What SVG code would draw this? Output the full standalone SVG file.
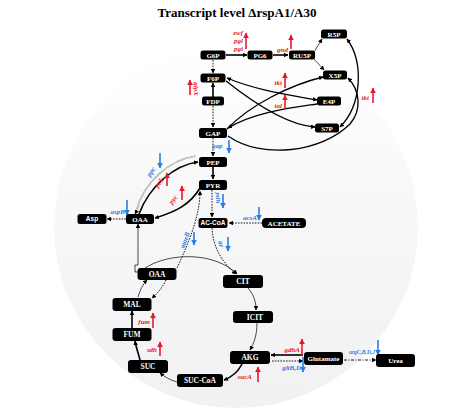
<svg xmlns="http://www.w3.org/2000/svg" width="474" height="417" viewBox="0 0 474 417">
<defs>
<linearGradient id="bg" x1="0" y1="0" x2="0" y2="1">
<stop offset="0" stop-color="#ffffff"/>
<stop offset="0.4" stop-color="#f8f8f9"/>
<stop offset="1" stop-color="#f1f1f3"/>
</linearGradient>
<marker id="ah" viewBox="0 0 10 10" refX="9" refY="5" markerWidth="4.5" markerHeight="4.5" orient="auto-start-reverse" markerUnits="userSpaceOnUse"><path d="M0,0 L10,5 L0,10 z" fill="#000"/></marker>
<marker id="rh" viewBox="0 0 10 10" refX="9" refY="5" markerWidth="6" markerHeight="6" orient="auto" markerUnits="userSpaceOnUse"><path d="M0,0 L10,5 L0,10 z" fill="#e8192c"/></marker>
<marker id="bh" viewBox="0 0 10 10" refX="9" refY="5" markerWidth="6" markerHeight="6" orient="auto" markerUnits="userSpaceOnUse"><path d="M0,0 L10,5 L0,10 z" fill="#2a7de1"/></marker>
</defs>
<style>
.n rect{fill:#000}
.n text{fill:#fff;font-family:"Liberation Serif",serif;font-weight:bold;font-size:7px;text-anchor:middle}
.n text.s{font-family:"Liberation Sans",sans-serif;font-size:6.5px}
.e path{fill:none;stroke:#000;marker-end:url(#ah)}
.th{stroke-width:1.6}
.tn{stroke-width:0.7}
.ds{stroke-width:0.9;stroke-dasharray:1.6 1.2}
.up{stroke:#e8192c;stroke-width:1.6;marker-end:url(#rh)}
.dn{stroke:#2a7de1;stroke-width:1.6;marker-end:url(#bh)}
.r{fill:#e8192c;font-family:"Liberation Serif",serif;font-style:italic;font-weight:bold;font-size:7px}
.b{fill:#2a7de1;font-family:"Liberation Serif",serif;font-style:italic;font-weight:bold;font-size:7px}
</style>
<rect width="474" height="417" fill="#fff"/>
<circle cx="236" cy="226" r="182" fill="url(#bg)"/>
<text x="237" y="17" text-anchor="middle" font-family="Liberation Serif,serif" font-weight="bold" font-size="13">Transcript level  ΔrspA1/A30</text>

<g class="e" id="connectors">
<path class="th" d="M226,55 L247,55"/>
<path class="th" d="M273,55 L288,55"/>
<path class="tn" d="M314,52 L322,39"/>
<path class="tn" d="M314,59 L324,70"/>
<path class="ds" d="M213,60 L213,73"/>
<path class="th" d="M213,97 L213,83"/>
<path class="ds" d="M213,106 L213,127"/>
<path class="th" style="marker-start:url(#ah);stroke-width:1.3" d="M227,78 C255,90 290,95 317,100"/>
<path class="th" style="stroke-width:1.3" d="M226,81 C250,100 285,125 315,127"/>
<path class="th" style="stroke-width:1.3" d="M227,129 C250,105 290,85 323,77"/>
<path class="th" style="stroke-width:1.3" d="M317,104 C290,108 255,112 228,128"/>
<path class="th" style="stroke-width:1.3" d="M228,136 C262,160 322,152 350,124 C362,110 360,90 348,78"/>
<path class="th" style="marker-start:url(#ah);stroke-width:1.3" d="M340,127 C362,105 364,62 347,39"/>
<path class="ds" d="M213,138 L213,156"/>
<path class="th" d="M213,167 L213,179"/>
<path class="ds" d="M212,190 L212,217"/>
<path class="ds" d="M262,223 L229,223"/>
<path class="ds" d="M212,228 C213,250 225,265 236,274"/>
<path class="th" d="M139,214 C150,185 175,165 198,162"/>
<path style="stroke:#999;stroke-width:1.4;marker-end:none" d="M196,156 C170,160 145,180 136,211"/>
<path style="stroke:#f8f8f9;stroke-width:0.6;marker-end:none" d="M196,156 C170,160 145,180 136,211"/>
<path style="stroke:#888;stroke-width:0.4" d="M140,205 L135,214"/>
<path class="th" d="M200,188 C190,205 175,212 155,218"/>
<path class="ds" d="M126,219 L107,219"/>
<path class="tn" d="M139,272 L135,272 L135,265 L138,265 L138,224"/>
<path class="ds" d="M177,268 C190,240 200,215 200,191"/>
<path class="tn" d="M145,268 C170,252 215,252 237,274"/>
<path class="tn" d="M248,288 C254,295 256,302 256,310"/>
<path class="tn" d="M257,323 C257,335 254,343 250,350"/>
<path class="th" d="M242,364 C238,372 232,377 224,380"/>
<path class="tn" d="M177,382 C170,380 165,377 160,373"/>
<path class="th" d="M140,360 C138,352 136,347 135,341"/>
<path class="th" d="M132,328 L132,311"/>
<path class="tn" d="M138,297 C140,290 143,284 147,280"/>
<path class="ds" d="M166,280 C162,288 158,293 152,298"/>
<path class="th" d="M303,355 L271,355"/>
<path class="ds" d="M272,361 L303,361"/>
<path style="stroke-width:0.9;stroke-dasharray:3 1.5 1 1.5" d="M344,360 L376,360"/>
</g>

<g id="expression">
<path class="up" d="M246,49 L246,33"/>
<path class="up" d="M291,49 L291,35"/>
<path class="up" d="M285,88 L285,73"/>
<path class="up" d="M285,109 L285,95"/>
<path class="up" d="M190,95 L190,80"/>
<path class="up" d="M373,103 L373,88"/>
<path class="up" d="M167,186 L167,173"/>
<path class="up" d="M182,200 L182,186"/>
<path class="up" d="M153,328 L153,313"/>
<path class="up" d="M160,356 L160,342"/>
<path class="up" d="M258,382 L258,367"/>
<path class="up" d="M302,355 L302,339"/>
<path class="dn" d="M229,140 L229,153"/>
<path class="dn" d="M223,194 L223,208"/>
<path class="dn" d="M259,207 L259,220"/>
<path class="dn" d="M160,153 L160,168"/>
<path class="dn" d="M127,200 L127,215"/>
<path class="dn" d="M194,232 L194,245"/>
<path class="dn" d="M228,237 L228,251"/>
<path class="dn" d="M303,357 L303,372"/>
<path class="dn" d="M378,340 L378,355"/>
<text class="r" x="243" y="35" text-anchor="end">zwf</text>
<text class="r" x="243" y="43" text-anchor="end">pgl</text>
<text class="r" x="243" y="51" text-anchor="end">pgi</text>
<text class="r" x="288" y="52" text-anchor="end">gnd</text>
<text class="r" x="282" y="85" text-anchor="end">tkt</text>
<text class="r" x="282" y="108" text-anchor="end">tal</text>
<text class="r" x="369" y="100" text-anchor="end">tkt</text>
<text class="r" transform="translate(194,89) rotate(90)" text-anchor="middle">glpX</text>
<text class="r" transform="translate(161,184) rotate(-55)" text-anchor="middle">pck</text>
<text class="r" transform="translate(175,201) rotate(-50)" text-anchor="middle">pyc</text>
<text class="r" x="150" y="324" text-anchor="end">fum</text>
<text class="r" x="157" y="352" text-anchor="end">sdh</text>
<text class="r" x="252" y="379" text-anchor="end">sucA</text>
<text class="r" x="300" y="352" text-anchor="end">gdhA</text>
<text class="b" x="212" y="148">gap</text>
<text class="b" transform="translate(216,198) rotate(90)" text-anchor="middle">pdh</text>
<text class="b" x="257" y="220" text-anchor="end">acsA</text>
<text class="b" transform="translate(153,173) rotate(-55)" text-anchor="middle">ppc</text>
<text class="b" x="125" y="214" text-anchor="end">aspB</text>
<text class="b" transform="translate(187,241) rotate(-70)" text-anchor="middle">maeB</text>
<text class="b" transform="translate(219,244) rotate(90)" text-anchor="middle">gl</text>
<text class="b" x="301" y="370" text-anchor="end">gltB,D</text>
<text class="b" x="375" y="354" text-anchor="end" style="font-size:5.5px">argC,B,D,J</text>
</g>

<g class="n" id="G6P"><rect x="200.5" y="50.5" width="25" height="9" rx="2.5"/><text x="213" y="57.5">G6P</text></g>
<g class="n" id="PG6"><rect x="247.5" y="50.5" width="25" height="9" rx="2.5"/><text x="260" y="57.5">PG6</text></g>
<g class="n" id="RU5P"><rect x="289" y="50.5" width="26" height="9" rx="2.5"/><text x="302" y="57.5">RU5P</text></g>
<g class="n" id="R5P"><rect x="321" y="29.5" width="26" height="9" rx="2.5"/><text x="334" y="36.5">R5P</text></g>
<g class="n" id="F6P"><rect x="200.5" y="73.5" width="25" height="9" rx="2.5"/><text x="213" y="80.5">F6P</text></g>
<g class="n" id="X5P"><rect x="323" y="70.5" width="24" height="9" rx="2.5"/><text x="335" y="77.5">X5P</text></g>
<g class="n" id="E4P"><rect x="317" y="96.5" width="24" height="9" rx="2.5"/><text x="329" y="103.5">E4P</text></g>
<g class="n" id="FDP"><rect x="202" y="96.5" width="22" height="9" rx="2.5"/><text x="213" y="103.5">FDP</text></g>
<g class="n" id="S7P"><rect x="315" y="123.5" width="24" height="9" rx="2.5"/><text x="327" y="130.5">S7P</text></g>
<g class="n" id="GAP"><rect x="199" y="128" width="28" height="10" rx="2.5"/><text x="213" y="135.5">GAP</text></g>
<g class="n" id="PEP"><rect x="199" y="157" width="28" height="10" rx="2.5"/><text x="213" y="164.5">PEP</text></g>
<g class="n" id="PYR"><rect x="199" y="180" width="28" height="10" rx="2.5"/><text x="213" y="187.5">PYR</text></g>
<g class="n" id="ACCoA"><rect x="198.5" y="218" width="29" height="10" rx="2.5"/><text class="s" x="213" y="225.3">AC-CoA</text></g>
<g class="n" id="ACETATE"><rect x="262" y="218" width="44" height="10" rx="4"/><text x="284" y="225.5">ACETATE</text></g>
<g class="n" id="OAA1"><rect x="126" y="214" width="28" height="10" rx="2.5"/><text x="140" y="221.5">OAA</text></g>
<g class="n" id="Asp"><rect x="77.5" y="214" width="29" height="10" rx="2.5"/><text class="s" x="92" y="221.3">Asp</text></g>
<g class="n" id="OAA2"><rect x="137.5" y="268" width="39" height="12" rx="3"/><text x="157" y="276.5" style="font-size:7.5px">OAA</text></g>
<g class="n" id="CIT"><rect x="223" y="275" width="40" height="13" rx="3"/><text x="243" y="284" style="font-size:7.5px">CIT</text></g>
<g class="n" id="MAL"><rect x="112.5" y="298" width="39" height="13" rx="3"/><text x="132" y="307" style="font-size:7.5px">MAL</text></g>
<g class="n" id="ICIT"><rect x="233" y="311" width="40" height="12" rx="3"/><text x="255" y="319.5" style="font-size:7.5px">ICIT</text></g>
<g class="n" id="FUM"><rect x="112.5" y="328" width="39" height="13" rx="3"/><text x="132" y="337" style="font-size:7.5px">FUM</text></g>
<g class="n" id="AKG"><rect x="230" y="351" width="40" height="13" rx="3"/><text x="250" y="360" style="font-size:7.5px">AKG</text></g>
<g class="n" id="Glutamate"><rect x="304" y="352" width="39" height="13" rx="3"/><text x="323.5" y="361" style="font-size:7px">Glutamate</text></g>
<g class="n" id="Urea"><rect x="376" y="354" width="39" height="13" rx="3"/><text x="395.5" y="363" style="font-size:7px">Urea</text></g>
<g class="n" id="SUC"><rect x="128" y="360" width="40" height="13" rx="3"/><text x="148" y="369" style="font-size:7.5px">SUC</text></g>
<g class="n" id="SUCCoA"><rect x="177" y="374" width="46" height="13" rx="3"/><text x="200" y="383" style="font-size:7.5px">SUC-CoA</text></g>
</svg>
